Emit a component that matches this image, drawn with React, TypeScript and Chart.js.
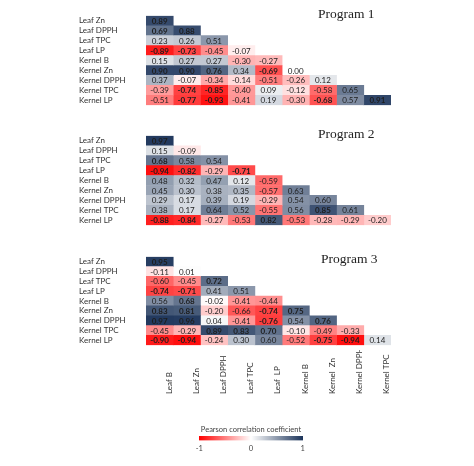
import { useEffect, useRef } from 'react';
import { Chart, registerables } from 'chart.js';

Chart.register(...registerables);

const rowLabels = ['Leaf Zn', 'Leaf DPPH', 'Leaf TPC', 'Leaf LP', 'Kernel B', 'Kernel Zn', 'Kernel DPPH', 'Kernel TPC', 'Kernel LP'];
const colLabels = ['Leaf B', 'Leaf Zn', 'Leaf DPPH', 'Leaf TPC', 'Leaf  LP', 'Kernel B', 'Kernel  Zn', 'Kernel DPPH', 'Kernel TPC'];

const program1 = [
  [0.89],
  [0.69, 0.88],
  [0.23, 0.26, 0.51],
  [-0.89, -0.73, -0.45, -0.07],
  [0.15, 0.27, 0.27, -0.30, -0.27],
  [0.90, 0.90, 0.76, 0.34, -0.69, 0.00],
  [0.37, -0.07, -0.34, -0.14, -0.51, -0.26, 0.12],
  [-0.39, -0.74, -0.85, -0.40, 0.09, -0.12, -0.58, 0.65],
  [-0.51, -0.77, -0.93, -0.41, 0.19, -0.30, -0.68, 0.57, 0.91],
];

const program2 = [
  [0.97],
  [0.15, -0.09],
  [0.68, 0.58, 0.54],
  [-0.94, -0.82, -0.29, -0.71],
  [0.48, 0.32, 0.47, 0.12, -0.59],
  [0.45, 0.30, 0.38, 0.35, -0.57, 0.63],
  [0.29, 0.17, 0.39, 0.19, -0.29, 0.54, 0.60],
  [0.38, 0.17, 0.64, 0.52, -0.55, 0.56, 0.85, 0.61],
  [-0.88, -0.84, -0.27, -0.53, 0.82, -0.53, -0.28, -0.29, -0.20],
];

const program3 = [
  [0.95],
  [-0.11, 0.01],
  [-0.60, -0.45, 0.72],
  [-0.74, -0.71, 0.41, 0.51],
  [0.56, 0.68, -0.02, -0.41, -0.44],
  [0.83, 0.81, -0.20, -0.66, -0.74, 0.75],
  [0.97, 0.96, 0.04, -0.41, -0.76, 0.54, 0.76],
  [-0.45, -0.29, 0.89, 0.83, 0.70, -0.10, -0.49, -0.33],
  [-0.90, -0.94, -0.24, 0.30, 0.60, -0.52, -0.75, -0.94, 0.14],
];

const programTitles = ['Program 1', 'Program 2', 'Program 3'];
const legendTitle = 'Pearson correlation coefficient';
const legendTicks = [-1, 0, 1];
const significance = 0.67;

const NEG = [255, 0, 0];
const POS = [28, 52, 90];
const FONT = 'Lato, "Noto Sans", sans-serif';

function colorFor(v: number): string {
  const t = Math.min(1, Math.abs(v));
  const end = v < 0 ? NEG : POS;
  const c = end.map((e) => Math.round(255 + (e - 255) * t));
  return `rgb(${c[0]},${c[1]},${c[2]})`;
}

function Heatmap({ values, top, height }: { values: number[][]; top: number; height: number }) {
  const ref = useRef<HTMLCanvasElement>(null);
  useEffect(() => {
    if (!ref.current) return;
    const datasets = colLabels.map((_, c) => ({
      data: rowLabels.map((_, r) => (c < values[r].length ? [c, c + 1] : null)),
      backgroundColor: (ctx: any) => {
        const v = values[ctx.dataIndex]?.[c];
        return v === undefined ? 'rgba(0,0,0,0)' : colorFor(v);
      },
      borderWidth: 0,
      borderSkipped: false,
      grouped: false,
      barPercentage: 1,
      categoryPercentage: 1,
    }));
    const textPlugin = {
      id: 'cellText',
      afterDatasetsDraw(chart: any) {
        const g = chart.ctx;
        g.save();
        g.textAlign = 'center';
        g.textBaseline = 'middle';
        chart.data.datasets.forEach((_: any, c: number) => {
          const meta = chart.getDatasetMeta(c);
          meta.data.forEach((el: any, r: number) => {
            const v = values[r][c];
            if (v === undefined) return;
            const p = el.getCenterPoint();
            g.font = `${Math.abs(v) >= significance ? 'bold ' : ''}8px ${FONT}`;
            g.fillStyle = '#1e1e1e';
            g.fillText(v.toFixed(2), p.x, p.y + 0.5);
          });
        });
        g.restore();
      },
    };
    const chart = new Chart(ref.current, {
      type: 'bar',
      data: { labels: rowLabels, datasets: datasets as any },
      options: {
        indexAxis: 'y',
        animation: false,
        responsive: false,
        maintainAspectRatio: false,
        events: [],
        layout: { padding: 0 },
        plugins: { legend: { display: false }, tooltip: { enabled: false } },
        scales: {
          x: { type: 'linear', min: 0, max: 9, display: false },
          y: {
            type: 'category',
            grid: { display: false, drawTicks: false },
            border: { display: false },
            ticks: {
              autoSkip: false,
              crossAlign: 'far',
              padding: 0,
              color: '#333',
              font: { family: FONT, size: 8 },
            },
            afterFit: (s: any) => {
              s.width = 67;
            },
          },
        },
      } as any,
      plugins: [textPlugin],
    });
    return () => chart.destroy();
  }, [values]);
  return (
    <canvas
      ref={ref}
      width={312}
      height={height}
      style={{ position: 'absolute', left: 79, top, width: 312, height }}
    />
  );
}

function ColumnLabels() {
  const ref = useRef<HTMLCanvasElement>(null);
  useEffect(() => {
    if (!ref.current) return;
    const chart = new Chart(ref.current, {
      type: 'bar',
      data: { labels: colLabels, datasets: [] },
      options: {
        animation: false,
        responsive: false,
        maintainAspectRatio: false,
        events: [],
        layout: { padding: 0 },
        plugins: { legend: { display: false }, tooltip: { enabled: false } },
        scales: {
          x: {
            type: 'category',
            position: 'top',
            grid: { display: false, drawTicks: false },
            border: { display: false },
            ticks: {
              autoSkip: false,
              minRotation: 90,
              maxRotation: 90,
              padding: 0,
              color: '#333',
              font: { family: FONT, size: 8 },
            },
            afterFit: (s: any) => {
              s.height = 44;
            },
          },
          y: { display: false },
        },
      } as any,
    });
    return () => chart.destroy();
  }, []);
  return (
    <canvas
      ref={ref}
      width={245}
      height={50}
      style={{ position: 'absolute', left: 165, top: 350, width: 245, height: 50 }}
    />
  );
}

function Legend() {
  const ref = useRef<HTMLCanvasElement>(null);
  useEffect(() => {
    if (!ref.current) return;
    const chart = new Chart(ref.current, {
      type: 'bar',
      data: {
        labels: [''],
        datasets: [
          {
            data: [[legendTicks[0], legendTicks[legendTicks.length - 1]]] as any,
            backgroundColor: (ctx: any) => {
              const ch = ctx.chart;
              const xs = ch.scales?.x;
              if (!ch.chartArea || !xs) return 'rgba(0,0,0,0)';
              const x0 = xs.getPixelForValue(-1);
              const x1 = xs.getPixelForValue(1);
              const grad = ch.ctx.createLinearGradient(x0, 0, x1, 0);
              grad.addColorStop(0, colorFor(-1));
              grad.addColorStop(0.5, colorFor(0));
              grad.addColorStop(1, colorFor(1));
              return grad;
            },
            borderWidth: 0,
            borderSkipped: false,
            barPercentage: 1,
            categoryPercentage: 1,
          },
        ],
      },
      options: {
        indexAxis: 'y',
        animation: false,
        responsive: false,
        maintainAspectRatio: false,
        events: [],
        layout: { padding: 0 },
        plugins: {
          legend: { display: false },
          tooltip: { enabled: false },
          title: {
            display: true,
            text: legendTitle,
            color: '#444',
            font: { family: FONT, size: 7.5, weight: 'normal' },
            padding: { top: 0, bottom: 2 },
          },
        },
        scales: {
          x: {
            type: 'linear',
            min: -1.2,
            max: 1.2,
            afterBuildTicks: (s: any) => {
              s.ticks = legendTicks.map((v) => ({ value: v }));
            },
            grid: { display: false, drawTicks: false },
            border: { display: false },
            ticks: { padding: 4, color: '#444', font: { family: FONT, size: 7.5 } },
          },
          y: { display: false },
        },
      } as any,
    });
    return () => chart.destroy();
  }, []);
  return (
    <canvas
      ref={ref}
      width={124}
      height={31}
      style={{ position: 'absolute', left: 189, top: 425, width: 124, height: 31 }}
    />
  );
}

const titleStyle = (left: number, top: number): any => ({
  position: 'absolute',
  left,
  top,
  fontFamily: '"Liberation Serif", "DejaVu Serif", serif',
  fontSize: 13.5,
  lineHeight: '14px',
  color: '#222',
  whiteSpace: 'nowrap',
});

export default function App() {
  return (
    <div
      style={{
        position: 'fixed',
        left: 0,
        top: 0,
        width: 474,
        height: 466,
        background: '#fff',
        overflow: 'hidden',
      }}
    >
      <Heatmap values={program1} top={11} height={99} />
      <Heatmap values={program2} top={131} height={99} />
      <Heatmap values={program3} top={252} height={98} />
      <div style={titleStyle(318, 7)}>{programTitles[0]}</div>
      <div style={titleStyle(318, 127)}>{programTitles[1]}</div>
      <div style={titleStyle(321, 252)}>{programTitles[2]}</div>
      <ColumnLabels />
      <Legend />
    </div>
  );
}
